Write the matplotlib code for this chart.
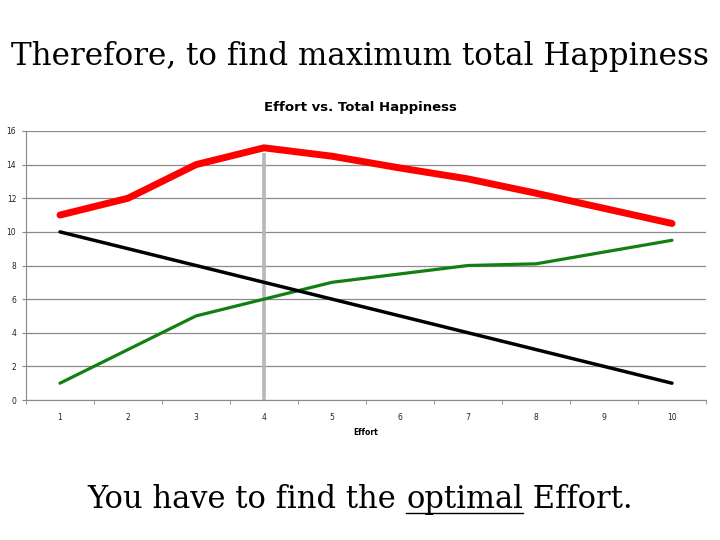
import matplotlib
matplotlib.use("Agg")
import matplotlib.pyplot as plt

effort = [1, 2, 3, 4, 5, 6, 7, 8, 9, 10]
total_happiness = [11, 12, 14, 15, 14.5, 13.8, 13.15, 12.3, 11.4, 10.5]
cost = [10, 9, 8, 7, 6, 5, 4, 3, 2, 1]
benefit = [1, 3, 5, 6, 7, 7.5, 8, 8.1, 8.8, 9.5]
optimal_effort = 4
optimal_value = 15
y_ticks = [0, 2, 4, 6, 8, 10, 12, 14, 16]

W, H = 720, 540
fig = plt.figure(figsize=(7.2, 5.4), dpi=100)
fig.patch.set_facecolor("white")

def px(x0, y0, x1, y1):
    return [x0 / W, 1 - y1 / H, (x1 - x0) / W, (y1 - y0) / H]

ax = fig.add_axes(px(26, 131, 706, 400))
ax.set_xlim(0.5, 10.5)
ax.set_ylim(0, 16)
ax.set_yticks(y_ticks)
ax.set_yticklabels([str(v) for v in y_ticks], fontsize=5.5, family="DejaVu Sans", color="#222222")
ax.set_xticks(effort)
ax.set_xticklabels([str(v) for v in effort], fontsize=5.5, color="#222222")
ax.set_xticks([v + 0.5 for v in range(0, 11)], minor=True)
ax.tick_params(axis="x", which="major", length=0, pad=9)
ax.tick_params(axis="x", which="minor", length=3, color="#888888", direction="out")
ax.tick_params(axis="y", length=3, color="#888888", pad=4)
for s in ["top", "right"]:
    ax.spines[s].set_visible(False)
ax.spines["left"].set_color("#888888")
ax.spines["bottom"].set_color("#888888")
ax.grid(axis="y", color="#8a8a8a", linewidth=0.9)
ax.set_axisbelow(True)

ax.vlines(optimal_effort, 0, optimal_value - 0.3, color="#b8b8b8", linewidth=2.6, zorder=2)
ax.plot(effort, benefit, color="#118011", linewidth=2.3, zorder=3, solid_capstyle="round")
ax.plot(effort, cost, color="black", linewidth=2.5, zorder=3, solid_capstyle="round")
ax.plot(effort, total_happiness, color="#ff0000", linewidth=5.0, zorder=4,
        solid_capstyle="round", solid_joinstyle="round")

fig.text(360 / W, 1 - 108 / H, "Effort vs. Total Happiness", ha="center", va="center",
         fontsize=9.5, fontweight="bold")
ax.set_xlabel("Effort", fontsize=5.5, fontweight="bold", labelpad=5)

fig.text(360 / W, 1 - 57 / H, "Therefore, to find maximum total Happiness",
         ha="center", va="center", fontsize=22.3, family="DejaVu Serif")

# bottom sentence with underlined word
parts = ["You have to find the ", "optimal", " Effort."]
fs = 22
renderer = fig.canvas.get_renderer()
tmp = [fig.text(0, 0, p, fontsize=fs, family="DejaVu Serif") for p in parts]
widths = [t.get_window_extent(renderer).width for t in tmp]
for t in tmp:
    t.remove()
total = sum(widths)
x = (W - total) / 2
baseline = 508
for p, w in zip(parts, widths):
    fig.text(x / W, 1 - baseline / H, p, fontsize=fs, family="DejaVu Serif",
             ha="left", va="baseline")
    if p == "optimal":
        fig.add_artist(plt.Line2D([x / W, (x + w) / W], [1 - 513 / H, 1 - 513 / H],
                                  color="black", linewidth=1.0, transform=fig.transFigure))
    x += w

fig.savefig("out.png", dpi=100, facecolor="white")
